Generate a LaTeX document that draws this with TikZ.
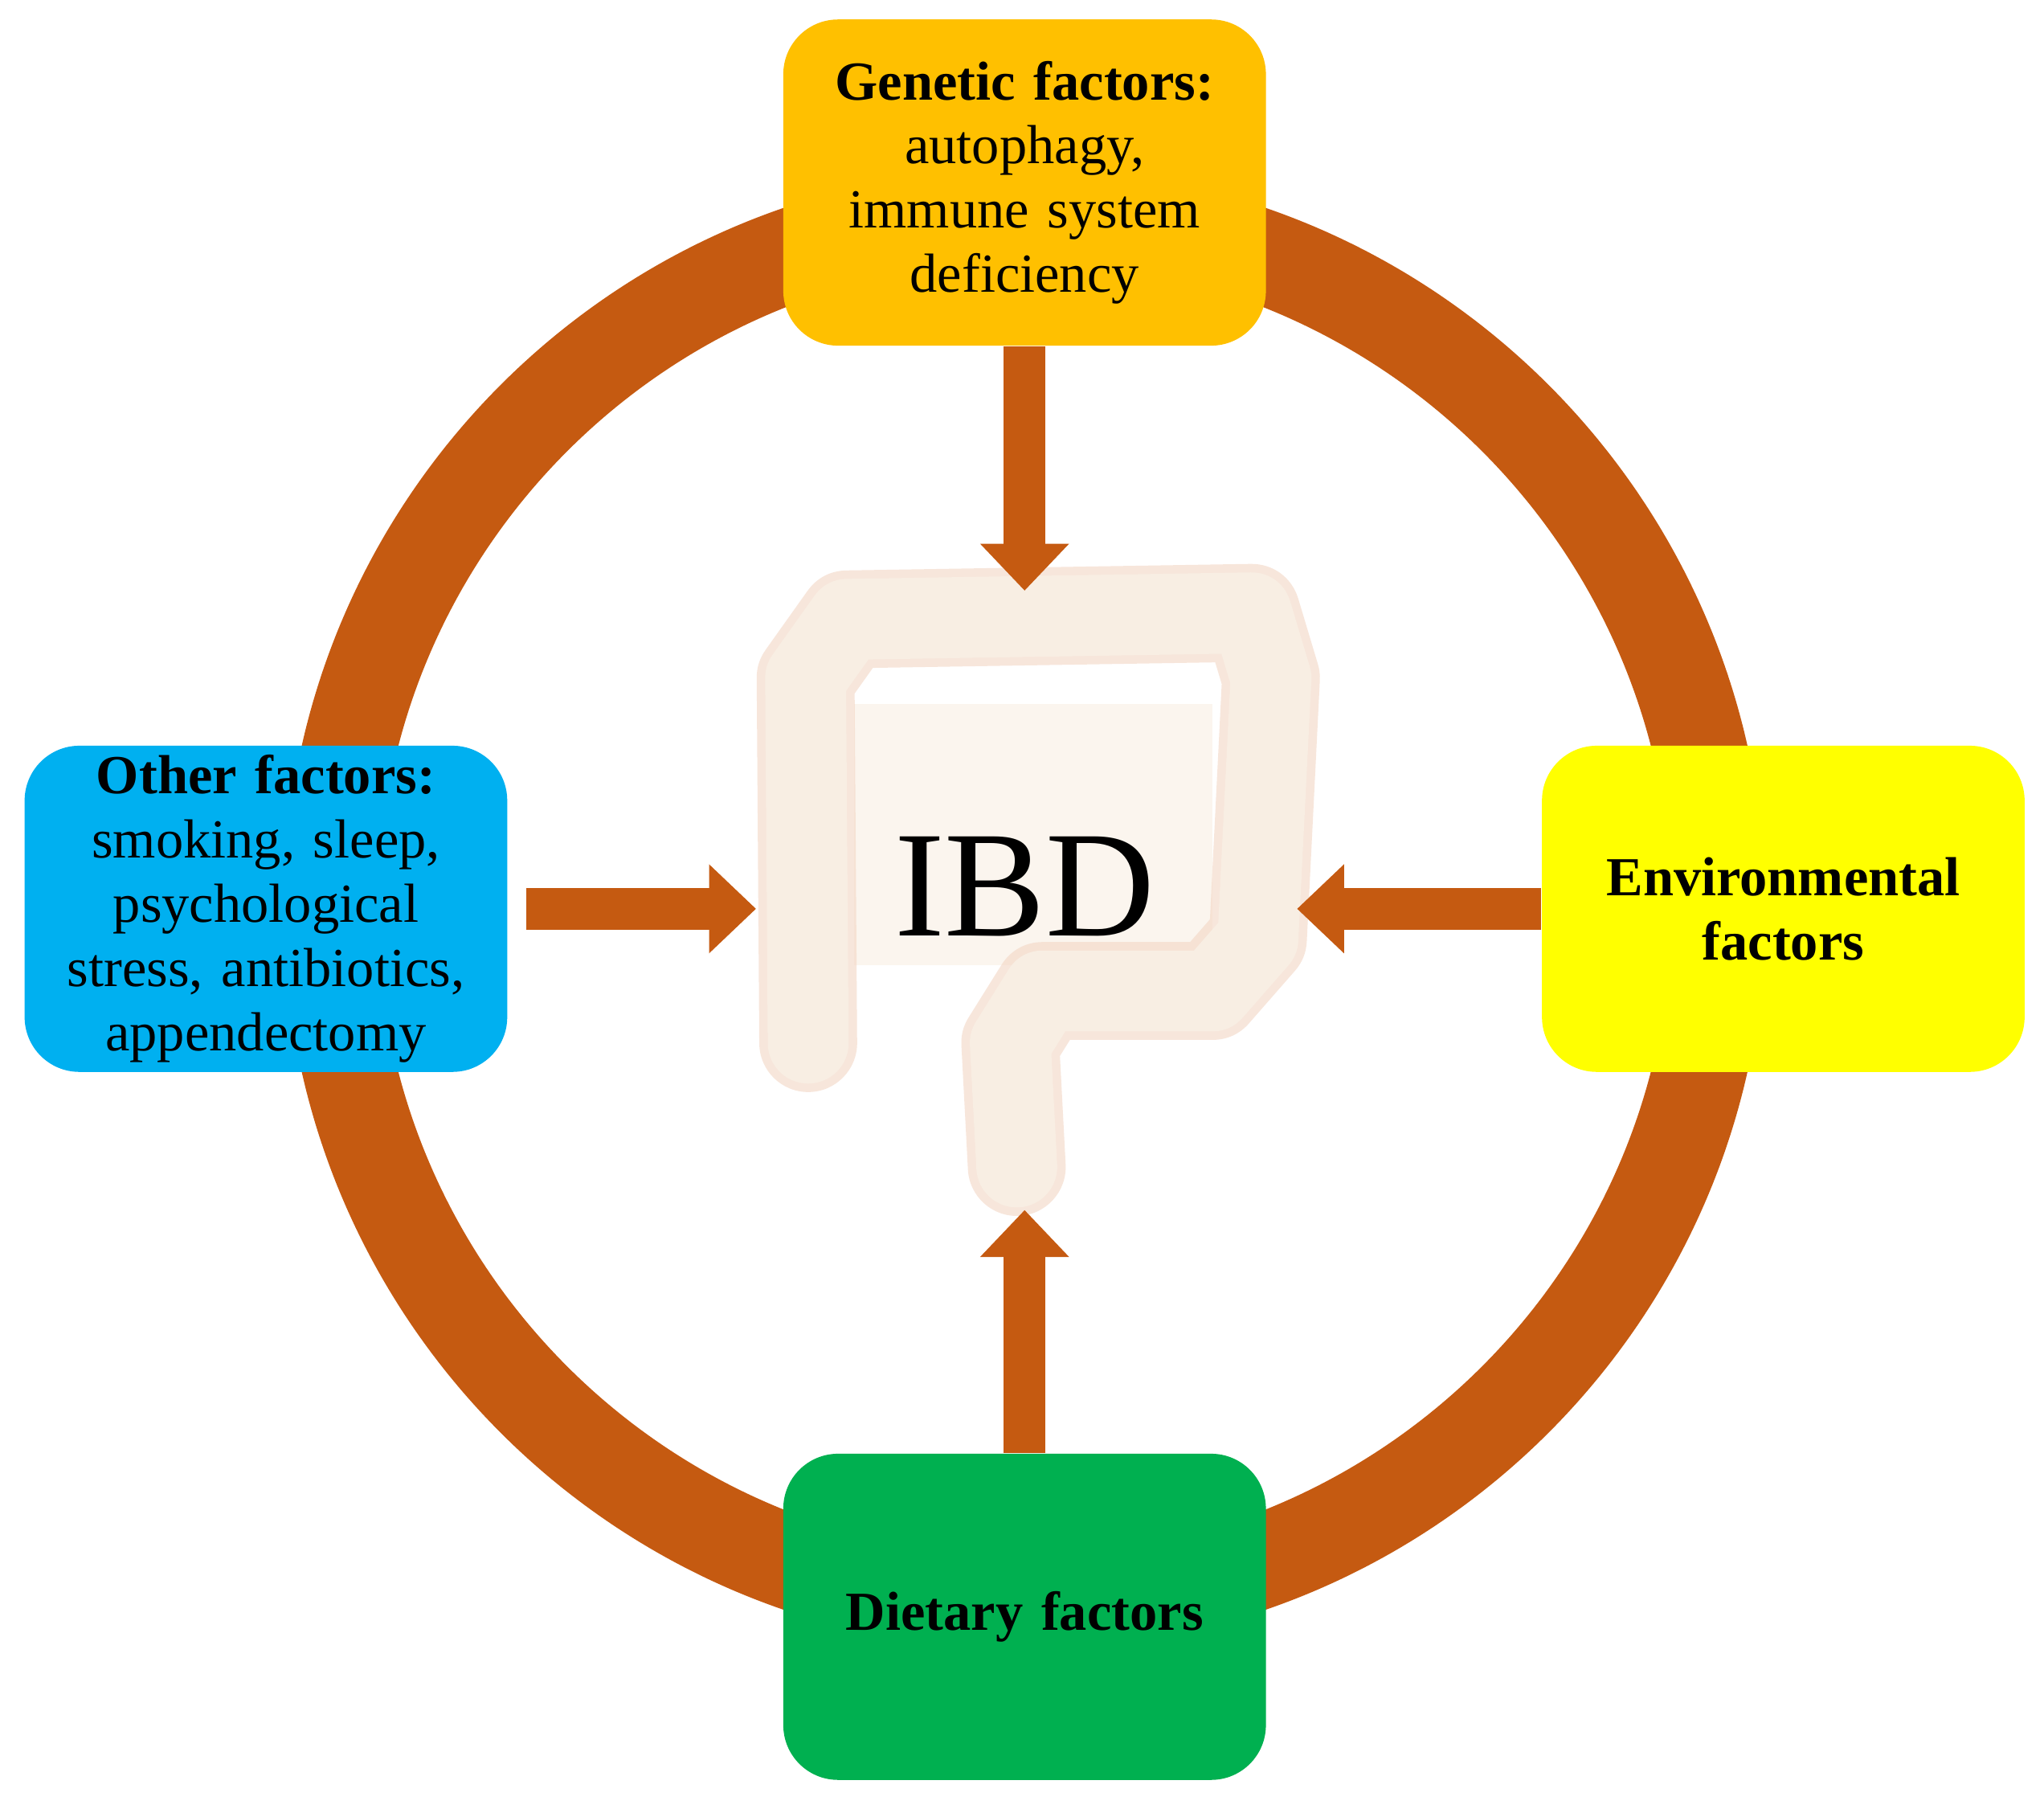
\documentclass[tikz,border=0pt]{standalone}
\usepackage{fontspec}
\setmainfont{Liberation Serif}
\usetikzlibrary{arrows.meta}
\definecolor{ring}{HTML}{C55A11}
\definecolor{gen}{HTML}{FFC000}
\definecolor{oth}{HTML}{00B0F0}
\definecolor{env}{HTML}{FFFF00}
\definecolor{diet}{HTML}{00B050}
\definecolor{colon}{HTML}{F8EEE3}
\definecolor{colonedge}{HTML}{F3D6C4}
\begin{document}
\begin{tikzpicture}[x=0.01cm,y=-0.01cm,
  box/.style={rounded corners=0.42cm,minimum width=3.7cm,minimum height=2.5cm,text width=3.6cm,align=center,inner sep=0pt,font=\fontsize{12}{14}\selectfont},
  arr/.style={draw=ring,line width=0.32cm,-{Triangle[width=6.6mm,length=3.6mm]}}]
\useasboundingbox (0,0) rectangle (1568,1384);
\fill[white] (0,0) rectangle (1568,1384);
\draw[ring,line width=0.72cm] (786,697) circle (5.32cm);
% colon (pale sketch)
\fill[colon!60] (655,540) rectangle (930,740);
\draw[colonedge,line width=0.75cm,line cap=round,line join=round,opacity=0.6]
  (620,800) -- (618,520) -- (650,475) -- (960,470) -- (975,520) -- (965,720) -- (930,760) -- (800,760) -- (775,800) -- (780,895);
\draw[colon,line width=0.62cm,line cap=round,line join=round]
  (620,800) -- (618,520) -- (650,475) -- (960,470) -- (975,520) -- (965,720) -- (930,760) -- (800,760) -- (775,800) -- (780,895);
\node (ibd) at (786,680) {\fontsize{33}{36}\selectfont IBD};
\node[box,fill=gen] (g) at (786,140) {\textbf{Genetic factors:}\\autophagy,\\immune system\\deficiency};
\node[box,fill=oth] (o) at (204,697) {\textbf{Other factors:}\\smoking, sleep,\\psychological\\stress, antibiotics,\\appendectomy};
\node[box,fill=env] (e) at (1368,697) {\textbf{Environmental}\\\textbf{factors}};
\node[box,fill=diet] (d) at (786,1240) {\textbf{Dietary factors}};
\coordinate (tg) at (786,453);
\coordinate (to) at (580,697);
\coordinate (te) at (995,697);
\coordinate (td) at (786,928);
\draw[arr] (g.south) -- (tg);
\draw[arr] ([xshift=4]o.east) -- (to);
\draw[arr] (e.west) -- (te);
\draw[arr] (d.north) -- (td);
\end{tikzpicture}
\end{document}
